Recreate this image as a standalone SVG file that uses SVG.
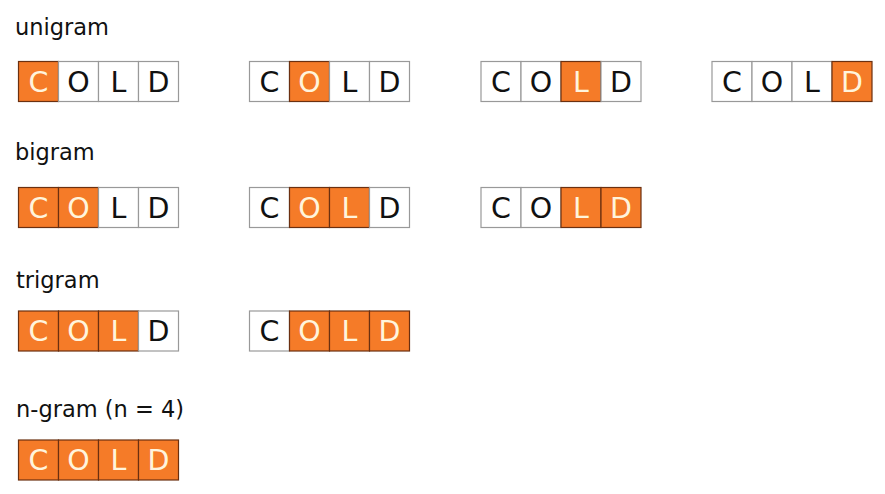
<svg xmlns="http://www.w3.org/2000/svg" width="885" height="494" viewBox="0 0 885 494">
<style>
.lbl{font-family:"DejaVu Sans",sans-serif;font-size:22.5px;fill:#111}
.c rect{fill:#fff;stroke:#999;stroke-width:1.2}
.c text{font-family:"DejaVu Sans",sans-serif;font-size:28.5px;fill:#111;text-anchor:middle}
.c.on rect{fill:#f57b28;stroke:#6b3010}
.c.on text{fill:#fff4dc}
</style>
<rect width="885" height="494" fill="#fff"/>
<text class="lbl" x="15" y="35">unigram</text>
<text class="lbl" x="15" y="160">bigram</text>
<text class="lbl" x="16" y="288">trigram</text>
<text class="lbl" x="16" y="417">n-gram (n = 4)</text>

<g id="uni1" transform="translate(18.5,61.5)">
<g class="c on"><rect x="0" y="0" width="40" height="40"/><text x="20" y="30">C</text></g>
<g class="c"><rect x="40" y="0" width="40" height="40"/><text x="60" y="30">O</text></g>
<g class="c"><rect x="80" y="0" width="40" height="40"/><text x="100" y="30">L</text></g>
<g class="c"><rect x="120" y="0" width="40" height="40"/><text x="140" y="30">D</text></g>
</g>
<g id="uni2" transform="translate(249.5,61.5)">
<g class="c"><rect x="0" y="0" width="40" height="40"/><text x="20" y="30">C</text></g>
<g class="c on"><rect x="40" y="0" width="40" height="40"/><text x="60" y="30">O</text></g>
<g class="c"><rect x="80" y="0" width="40" height="40"/><text x="100" y="30">L</text></g>
<g class="c"><rect x="120" y="0" width="40" height="40"/><text x="140" y="30">D</text></g>
</g>
<g id="uni3" transform="translate(481,61.5)">
<g class="c"><rect x="0" y="0" width="40" height="40"/><text x="20" y="30">C</text></g>
<g class="c"><rect x="40" y="0" width="40" height="40"/><text x="60" y="30">O</text></g>
<g class="c on"><rect x="80" y="0" width="40" height="40"/><text x="100" y="30">L</text></g>
<g class="c"><rect x="120" y="0" width="40" height="40"/><text x="140" y="30">D</text></g>
</g>
<g id="uni4" transform="translate(712,61.5)">
<g class="c"><rect x="0" y="0" width="40" height="40"/><text x="20" y="30">C</text></g>
<g class="c"><rect x="40" y="0" width="40" height="40"/><text x="60" y="30">O</text></g>
<g class="c"><rect x="80" y="0" width="40" height="40"/><text x="100" y="30">L</text></g>
<g class="c on"><rect x="120" y="0" width="40" height="40"/><text x="140" y="30">D</text></g>
</g>

<g id="bi1" transform="translate(18.5,187.5)">
<g class="c on"><rect x="0" y="0" width="40" height="40"/><text x="20" y="30">C</text></g>
<g class="c on"><rect x="40" y="0" width="40" height="40"/><text x="60" y="30">O</text></g>
<g class="c"><rect x="80" y="0" width="40" height="40"/><text x="100" y="30">L</text></g>
<g class="c"><rect x="120" y="0" width="40" height="40"/><text x="140" y="30">D</text></g>
</g>
<g id="bi2" transform="translate(249.5,187.5)">
<g class="c"><rect x="0" y="0" width="40" height="40"/><text x="20" y="30">C</text></g>
<g class="c on"><rect x="40" y="0" width="40" height="40"/><text x="60" y="30">O</text></g>
<g class="c on"><rect x="80" y="0" width="40" height="40"/><text x="100" y="30">L</text></g>
<g class="c"><rect x="120" y="0" width="40" height="40"/><text x="140" y="30">D</text></g>
</g>
<g id="bi3" transform="translate(481,187.5)">
<g class="c"><rect x="0" y="0" width="40" height="40"/><text x="20" y="30">C</text></g>
<g class="c"><rect x="40" y="0" width="40" height="40"/><text x="60" y="30">O</text></g>
<g class="c on"><rect x="80" y="0" width="40" height="40"/><text x="100" y="30">L</text></g>
<g class="c on"><rect x="120" y="0" width="40" height="40"/><text x="140" y="30">D</text></g>
</g>

<g id="tri1" transform="translate(18.5,311)">
<g class="c on"><rect x="0" y="0" width="40" height="40"/><text x="20" y="30">C</text></g>
<g class="c on"><rect x="40" y="0" width="40" height="40"/><text x="60" y="30">O</text></g>
<g class="c on"><rect x="80" y="0" width="40" height="40"/><text x="100" y="30">L</text></g>
<g class="c"><rect x="120" y="0" width="40" height="40"/><text x="140" y="30">D</text></g>
</g>
<g id="tri2" transform="translate(249.5,311)">
<g class="c"><rect x="0" y="0" width="40" height="40"/><text x="20" y="30">C</text></g>
<g class="c on"><rect x="40" y="0" width="40" height="40"/><text x="60" y="30">O</text></g>
<g class="c on"><rect x="80" y="0" width="40" height="40"/><text x="100" y="30">L</text></g>
<g class="c on"><rect x="120" y="0" width="40" height="40"/><text x="140" y="30">D</text></g>
</g>

<g id="quad1" transform="translate(18.5,440)">
<g class="c on"><rect x="0" y="0" width="40" height="40"/><text x="20" y="30">C</text></g>
<g class="c on"><rect x="40" y="0" width="40" height="40"/><text x="60" y="30">O</text></g>
<g class="c on"><rect x="80" y="0" width="40" height="40"/><text x="100" y="30">L</text></g>
<g class="c on"><rect x="120" y="0" width="40" height="40"/><text x="140" y="30">D</text></g>
</g>
</svg>
